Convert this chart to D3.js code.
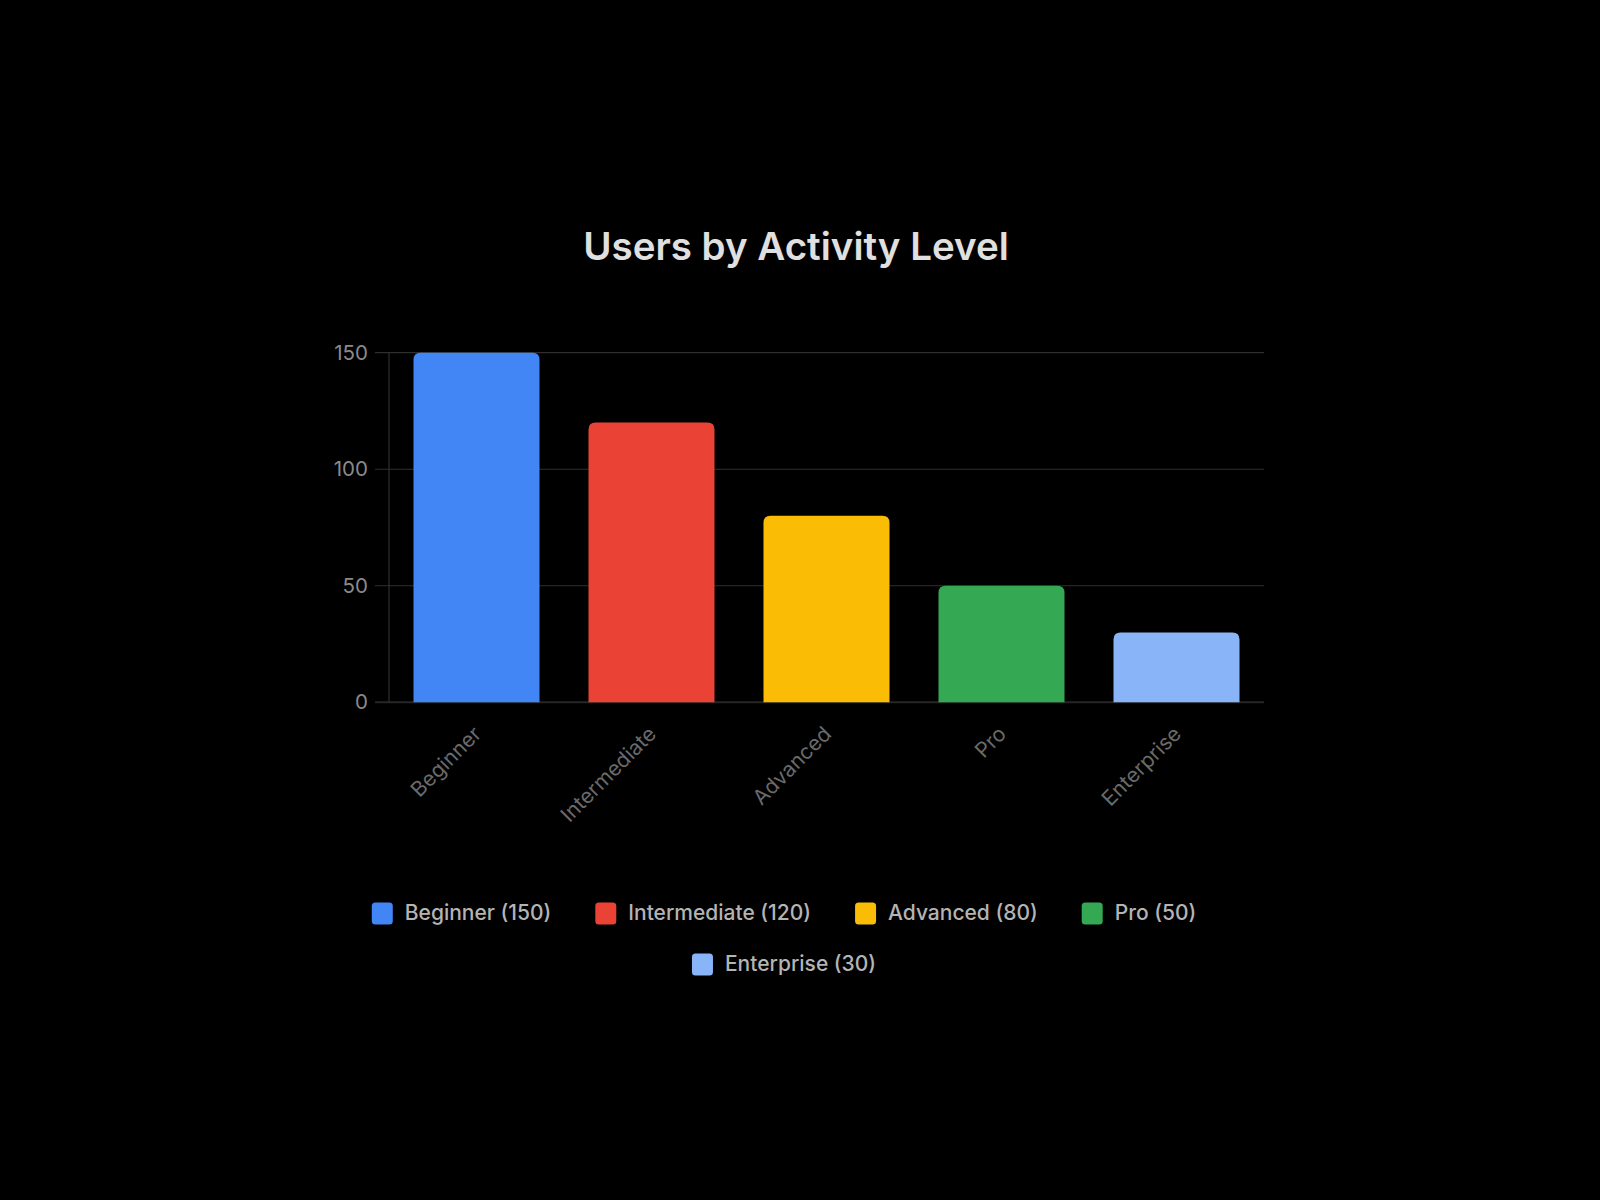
<!DOCTYPE html>
<html>
<head>
<meta charset="utf-8">
<script src="https://cdn.jsdelivr.net/npm/d3@7"></script>
<style>
  html, body { margin: 0; padding: 0; background: #000; }
  svg { display: block; }
</style>
</head>
<body>
<svg id="chart" width="1600" height="1200"></svg>
<script>
const categories = ["Beginner", "Intermediate", "Advanced", "Pro", "Enterprise"];
const values = [150, 120, 80, 50, 30];
const colors = ["#4285F4", "#EA4335", "#FBBC05", "#34A853", "#8AB4F8"];
const yTicks = [0, 50, 100, 150];
const titleText = "Users by Activity Level";

const svg = d3.select("#chart");
const FONT = "Inter, 'Noto Sans', sans-serif";

const margin = { left: 389, right: 1264, top: 352.7, bottom: 702.3 };

const x = d3.scaleBand().domain(categories).range([margin.left, margin.right])
  .paddingInner(0.28).paddingOuter(0.14);
const y = d3.scaleLinear().domain([0, 150]).range([margin.bottom, margin.top]);

// title
svg.append("text")
  .attr("x", 796).attr("y", 260)
  .attr("text-anchor", "middle")
  .attr("font-family", FONT).attr("font-size", 38.5).attr("font-weight", 600)
  .attr("fill", "#e0e0e0")
  .text(titleText);

// gridlines
svg.append("g").selectAll("line").data(yTicks).join("line")
  .attr("x1", 375).attr("x2", margin.right)
  .attr("y1", d => y(d)).attr("y2", d => y(d))
  .attr("stroke", d => d === 0 ? "#262626" : "#2f2f2f")
  .attr("stroke-width", d => d === 0 ? 2 : 1.2);

// y axis line
svg.append("line")
  .attr("x1", margin.left).attr("x2", margin.left)
  .attr("y1", y(150)).attr("y2", y(0))
  .attr("stroke", "#2f2f2f").attr("stroke-width", 1.2);

// y tick labels
svg.append("g").selectAll("text").data(yTicks).join("text")
  .attr("x", 368).attr("y", d => y(d))
  .attr("dy", "0.35em")
  .attr("text-anchor", "end")
  .attr("font-family", FONT).attr("font-size", 20.5)
  .attr("fill", "#8a8a8a")
  .text(d => d);

// bars with rounded top corners
const r = 7;
function barPath(x0, w, yTop, yBase) {
  const rr = Math.min(r, (yBase - yTop), w / 2);
  return `M${x0},${yBase}V${yTop + rr}Q${x0},${yTop} ${x0 + rr},${yTop}H${x0 + w - rr}Q${x0 + w},${yTop} ${x0 + w},${yTop + rr}V${yBase}Z`;
}
svg.append("g").selectAll("path").data(categories).join("path")
  .attr("d", (c, i) => barPath(x(c), x.bandwidth(), y(values[i]), y(0)))
  .attr("fill", (c, i) => colors[i]);

// x labels
svg.append("g").selectAll("text").data(categories).join("text")
  .attr("transform", c => `translate(${x(c) + x.bandwidth() / 2 + 6},${y(0) + 33}) rotate(-45)`)
  .attr("text-anchor", "end")
  .attr("font-family", FONT).attr("font-size", 21)
  .attr("fill", "#6a6a6a")
  .text(c => c);

// legend
const legendItems = categories.map((c, i) => ({ label: `${c} (${values[i]})`, color: colors[i] }));
const rows = [legendItems.slice(0, 4), legendItems.slice(4)];
const rowY = [913, 964];
const sw = 21, gapText = 12, gapItem = 44, legendCenter = 784;
const lg = svg.append("g");
rows.forEach((row, ri) => {
  const g = lg.append("g");
  let cx = 0;
  row.forEach(item => {
    g.append("rect")
      .attr("x", cx).attr("y", rowY[ri] - sw / 2)
      .attr("width", sw).attr("height", sw + 1).attr("rx", 3.5)
      .attr("fill", item.color);
    const t = g.append("text")
      .attr("x", cx + sw + gapText).attr("y", rowY[ri])
      .attr("dy", "0.35em")
      .attr("font-family", FONT).attr("font-size", 21).attr("font-weight", 500)
      .attr("fill", "#b4b4b4")
      .text(item.label);
    const w = t.node().getComputedTextLength();
    cx += sw + gapText + w + gapItem;
  });
  const total = cx - gapItem;
  g.attr("transform", `translate(${legendCenter - total / 2},0)`);
});
</script>
</body>
</html>
